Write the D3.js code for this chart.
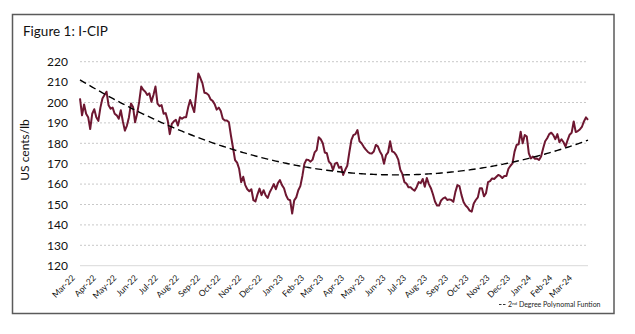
<!DOCTYPE html>
<html>
<head>
<meta charset="utf-8">
<script src="https://cdn.jsdelivr.net/npm/d3@7"></script>
<style>
  html, body { margin: 0; padding: 0; background: #fff; }
  svg { display: block; font-family: Lato, "Open Sans", sans-serif; }
</style>
</head>
<body>
<svg id="chart" width="635" height="334"></svg>
<script>
// ---- data ----
const title = "Figure 1: I-CIP";
const yTitle = "US cents/lb";
const startDate = "2022-03-01";   // first observation
const stepDays = 3;               // spacing of observations
const values = [
202.0,193.7,199,194.5,192.8,187,194.5,196.7,192.8,191,
197.5,202,203.7,205.3,198.7,197,197.5,194.5,193.7,192,
196.2,190.8,186.2,188.7,192.8,199.5,197.8,190.3,194.5,200.3,
207.8,206.2,205.3,203.7,204.5,200.3,203.7,207.8,199.5,198.2,
198.7,194.5,194.8,191.2,184.5,189.5,190.8,191.5,188.7,192.8,
192,192.8,192.8,197.5,201.2,198.2,195.3,204.5,214.2,212,
209.5,204.8,204.5,203.7,201.5,200.8,199.2,196.5,197.5,195.8,
192,191.2,191.2,190.3,183.7,177.8,
171.8,170.5,167.5,161,163.6,159.5,157.5,156.5,157.5,152.1,
151.5,155,157.8,154.6,157,154.5,153.2,156,157.9,160,
157.5,160.5,162,159.5,158,154.5,152.5,152.1,145.6,152,
153.5,157,159,164,170,172,171.8,171,172,175.5,
176.7,183,182,180,175.5,175.1,171,170,167,170,
170.5,168,168.5,164.5,167,169,175.5,181.5,184,184.5,
186.5,181,180,178.4,177,175.9,175.1,175,176,179.2,
178.5,176,174.3,170,174.2,175.5,181,176,175.5,174.2,
172,167,165,161,160.3,158.5,158.5,157.5,156.8,158.5,
161,160.5,162.5,158.7,163,160,158,155,151.5,149.5,
149.5,152,153,153.5,152.2,152.5,152.2,151.3,156.2,159.5,
159,154.6,151.2,149.5,148.5,147,146.5,150.5,152.2,153.5,
158,158,154,155.5,161,161.5,162.8,162.5,163.5,164.5,
164,163,164,164,167.5,169,170.2,175.9,179.2,179.5,
185.7,180,184.1,183.3,175.1,172.6,173.5,172.4,172.5,171.8,
173.5,177.5,181,182.5,184.5,185.2,184,182,184.5,180.5,
182,180.5,178.4,181.6,184.2,185.2,190.7,185.5,186,186.8,
188,190.7,192.7,191.5
];
const xTickLabels = ["Mar-22","Apr-22","May-22","Jun-22","Jul-22","Aug-22","Sep-22","Oct-22","Nov-22","Dec-22",
  "Jan-23","Feb-23","Mar-23","Apr-23","May-23","Jun-23","Jul-23","Aug-23","Sep-23","Oct-23","Nov-23","Dec-23",
  "Jan-24","Feb-24","Mar-24"];
const yTicks = [120,130,140,150,160,170,180,190,200,210,220];
const legendLabel = ["2", "nd", " Degree Polynomal Funtion"];

// ---- build ----
const parse = d3.utcParse("%Y-%m-%d");
const t0 = parse(startDate);
const data = values.map((v, i) => ({ date: d3.utcDay.offset(t0, i * stepDays), value: v }));
const tickDates = xTickLabels.map((_, i) => d3.utcMonth.offset(t0, i));

const svg = d3.select("#chart");
const x = d3.scaleUtc().domain([data[0].date, data[data.length - 1].date]).range([80, 588]);
const y = d3.scaleLinear().domain([120, 220]).range([265.7, 61.7]);

// frame
svg.append("rect").attr("x", 12.5).attr("y", 14.5).attr("width", 601.5).attr("height", 299)
  .attr("fill", "#fff").attr("stroke", "#5a5a5a").attr("stroke-width", 1.5);

svg.append("text").attr("x", 23).attr("y", 36).attr("font-size", 13.5).attr("fill", "#111").text(title);

// gridlines
svg.append("g").selectAll("line").data(yTicks).join("line")
  .attr("x1", 80).attr("x2", 588)
  .attr("y1", d => y(d)).attr("y2", d => y(d))
  .attr("stroke", d => d === 120 ? "#d9d9d9" : "#c9c9c9")
  .attr("stroke-width", 1)
  .attr("stroke-dasharray", d => d === 120 ? null : "2,2");

// y axis labels via d3 axis
const yAxis = svg.append("g").attr("transform", "translate(80,0)")
  .call(d3.axisLeft(y).tickValues(yTicks).tickSize(0).tickPadding(12));
yAxis.select(".domain").remove();
yAxis.selectAll("text").attr("font-size", 12).attr("font-family", "Lato, sans-serif").attr("fill", "#111");

svg.append("text")
  .attr("transform", "translate(29,150) rotate(-90)")
  .attr("text-anchor", "middle").attr("font-size", 12).attr("fill", "#111").text(yTitle);

// x labels
const xAxis = svg.append("g").attr("transform", "translate(0,266)")
  .call(d3.axisBottom(x).tickValues(tickDates).tickSize(0).tickFormat((d, i) => xTickLabels[i]));
xAxis.select(".domain").remove();
xAxis.selectAll("text")
  .attr("font-size", 8.5).attr("font-family", "Lato, sans-serif").attr("fill", "#111")
  .attr("text-anchor", "end")
  .attr("dy", null).attr("y", 0)
  .attr("transform", "translate(-5,12.5) rotate(-45)");

// trend line: least-squares 2nd degree polynomial fit of the series
const n = data.length;
const ts = data.map((d, i) => i / (n - 1));
const S = k => d3.sum(ts, t => Math.pow(t, k));
const T = k => d3.sum(ts, (t, i) => Math.pow(t, k) * data[i].value);
const M = [[S(0), S(1), S(2)], [S(1), S(2), S(3)], [S(2), S(3), S(4)]];
const B = [T(0), T(1), T(2)];
function solve3(A, b) {
  const m = A.map((r, i) => [...r, b[i]]);
  for (let c = 0; c < 3; c++) {
    let p = c; for (let r = c + 1; r < 3; r++) if (Math.abs(m[r][c]) > Math.abs(m[p][c])) p = r;
    [m[c], m[p]] = [m[p], m[c]];
    for (let r = 0; r < 3; r++) if (r !== c) {
      const f = m[r][c] / m[c][c];
      for (let k = c; k < 4; k++) m[r][k] -= f * m[c][k];
    }
  }
  return m.map((r, i) => r[3] / r[i]);
}
const [a0, a1, a2] = solve3(M, B);
const trend = data.map((d, i) => ({ date: d.date, value: a0 + a1 * ts[i] + a2 * ts[i] * ts[i] }));

const line = d3.line().x(d => x(d.date)).y(d => y(d.value));

svg.append("path").datum(data).attr("d", line)
  .attr("fill", "none").attr("stroke", "#6e1731").attr("stroke-width", 2).attr("stroke-linejoin", "round");

svg.append("path").datum(trend).attr("d", line)
  .attr("fill", "none").attr("stroke", "#000").attr("stroke-width", 1.4).attr("stroke-dasharray", "7,4");

// legend
svg.append("line").attr("x1", 499).attr("x2", 506).attr("y1", 304.5).attr("y2", 304.5)
  .attr("stroke", "#000").attr("stroke-width", 0.8).attr("stroke-dasharray", "2.5,1.5");
const lt = svg.append("text").attr("x", 508).attr("y", 307).attr("font-size", 7).attr("fill", "#222");
lt.append("tspan").text(legendLabel[0]);
lt.append("tspan").attr("font-size", 4.5).attr("dy", -2.5).text(legendLabel[1]);
lt.append("tspan").attr("dy", 2.5).text(legendLabel[2]);
</script>
</body>
</html>
